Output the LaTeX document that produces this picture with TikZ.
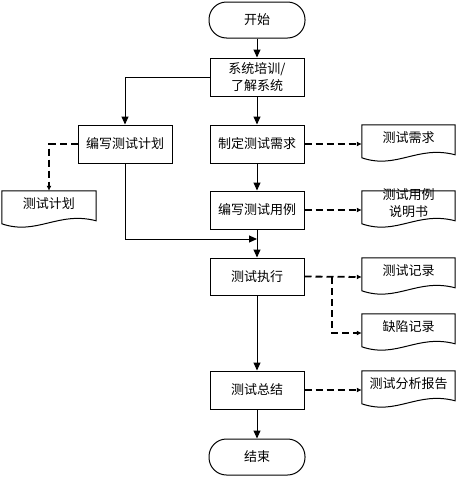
\documentclass[tikz,border=0pt]{standalone}
\usepackage{fontspec}
\setmainfont{Noto Sans CJK SC}
\usetikzlibrary{arrows.meta,calc}
\newcommand\docpath[1]{%
  \draw[docline] (#1.north west) -- (#1.north east) -- ($(#1.north east)+(0,30)$)
    .. controls ($(#1.north east)+(-38,20)$) and ($(#1.north west)+(35,45)$) ..
    ($(#1.north west)+(0,33)$) -- cycle;}
\begin{document}
\begin{tikzpicture}[x=1pt,y=-1pt,
  every node/.style={font=\fontsize{13}{17}\selectfont, inner sep=0pt},
  proc/.style={draw, line width=1pt, rectangle, minimum width=94pt, minimum height=38pt, align=center},
  term/.style={draw, line width=1pt, rounded corners=17.5pt, minimum width=96pt, minimum height=36pt},
  doc/.style={minimum width=93pt, minimum height=38pt, text height=10pt, text depth=14pt},
  docline/.style={line width=1pt},
  flow/.style={line width=1pt, -{Triangle[length=8pt,width=7pt]}},
  link/.style={line width=1pt},
  data/.style={line width=1.8pt, dash pattern=on 7pt off 4pt, -{Latex[length=5pt,width=5pt]}},
  dataline/.style={line width=1.8pt, dash pattern=on 7pt off 4pt}
]
\useasboundingbox (0,0) rectangle (458,477);

\node[term] (start) at (257,20) {开始};
\node[proc] (sys) at (257,77) {系统培训/\\了解系统};
\node[proc] (plan) at (125,144) {编写测试计划};
\node[proc] (req) at (257,144) {制定测试需求};
\node[proc] (tcase) at (257,210) {编写测试用例};
\node[proc, minimum height=37pt] (exec) at (257,276.5) {测试执行};
\node[proc] (summ) at (257,390) {测试总结};
\node[term] (end) at (257,457) {结束};

\node[doc] (docreq) at (408.5,144) {测试需求};
\node[doc, minimum width=94pt] (docplan) at (49,210) {测试计划};
\node[doc, text height=16pt, text depth=20pt] (doccase) at (408.5,210)
  {\begin{tabular}{@{}c@{}}测试用例\\说明书\end{tabular}};
\node[doc] (docrec) at (408.5,277) {测试记录};
\node[doc] (docdef) at (408.5,333) {缺陷记录};
\node[doc] (docrep) at (408.5,390) {测试分析报告};

\foreach \d in {docreq,docplan,doccase,docrec,docdef,docrep} {\docpath{\d}}

\coordinate (join) at (257,239);
\coordinate (br) at (332,277);

\draw[flow] (start) -- (sys);
\draw[flow] (sys.west) -| (plan.north);
\draw[flow] (sys) -- (req);
\draw[flow] (req) -- (tcase);
\draw[flow] (plan.south) |- (join);
\draw[flow] (tcase) -- (exec);
\draw[flow] (exec) -- (summ);
\draw[flow] (summ) -- (end);

\draw[data] (req.east) -- (docreq.west);
\draw[data] (plan.west) -| (docplan.north);
\draw[data] (tcase.east) -- (doccase.west);
\draw[data] (exec.east) -- (docrec.west);
\draw[data] (br) |- (docdef.west);
\draw[data] (summ.east) -- (docrep.west);
\end{tikzpicture}
\end{document}
